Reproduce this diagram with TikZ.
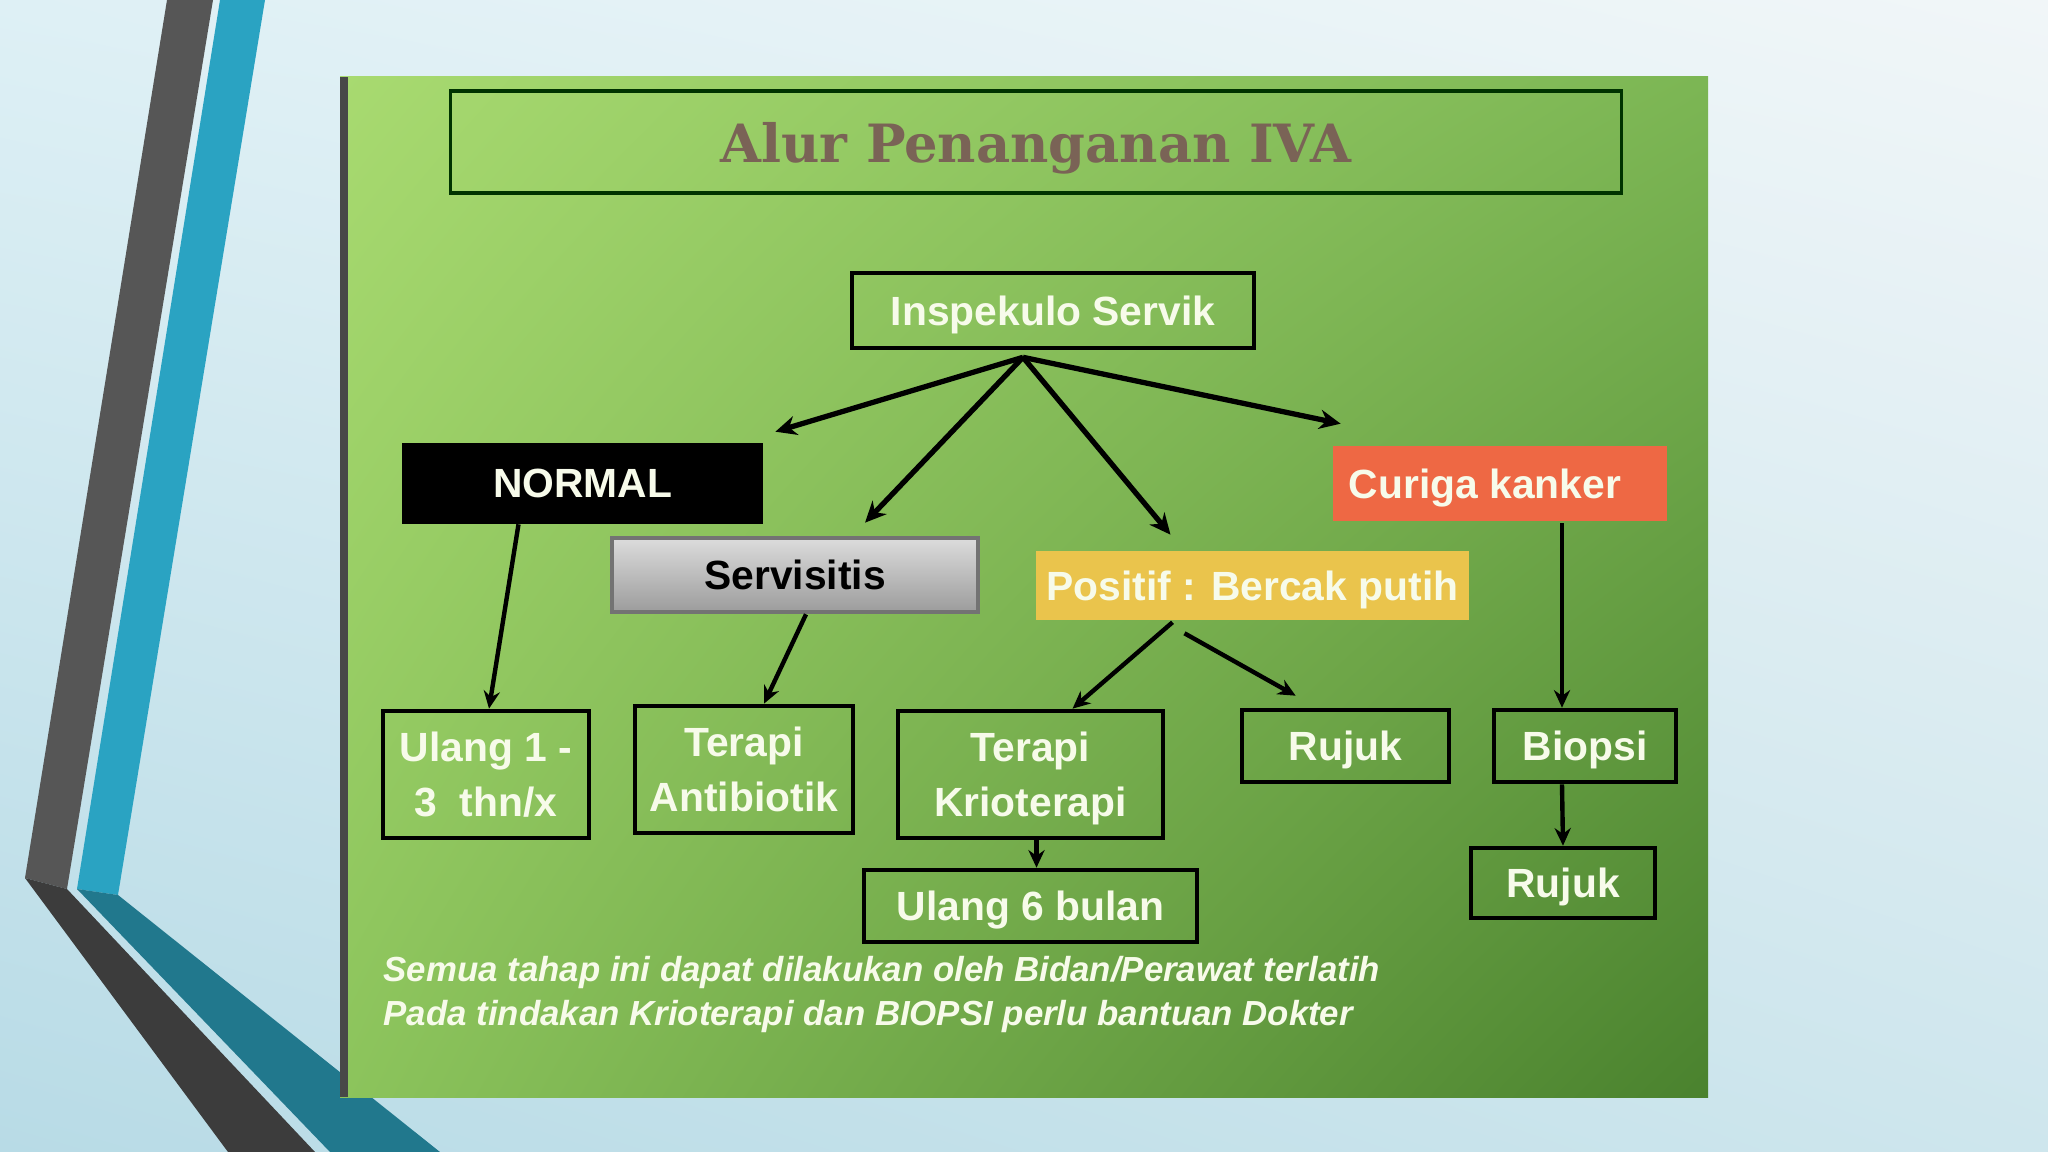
\documentclass[tikz,border=0pt]{standalone}
\usepackage{fontspec}
\setmainfont{Liberation Sans}
\newfontfamily\titlefont{DejaVu Serif}
\usetikzlibrary{arrows.meta,calc,shadings}
\definecolor{bgTopL}{RGB}{222,240,245}
\definecolor{bgTopR}{RGB}{241,246,248}
\definecolor{bgBotL}{RGB}{184,219,230}
\definecolor{bgBotR}{RGB}{206,230,237}
\definecolor{bandGray}{RGB}{86,86,86}
\definecolor{bandDark}{RGB}{60,60,60}
\definecolor{bandBlue}{RGB}{42,163,194}
\definecolor{bandTeal}{RGB}{33,120,141}
\definecolor{pnlTL}{RGB}{168,218,112}
\definecolor{pnlTR}{RGB}{124,182,84}
\definecolor{pnlBL}{RGB}{140,196,92}
\definecolor{pnlBR}{RGB}{74,130,46}
\definecolor{pnlEdge}{RGB}{72,72,72}
\definecolor{ttlBrown}{RGB}{122,99,86}
\definecolor{txtCream}{RGB}{247,251,234}
\definecolor{cPos}{RGB}{234,196,76}
\definecolor{cCur}{RGB}{238,104,68}
\definecolor{cSerTop}{RGB}{220,220,220}
\definecolor{cSerBot}{RGB}{156,156,156}

\begin{document}
\begin{tikzpicture}[
			x=0.01cm,y=-0.01cm,
			box/.style={
				draw=black,
				line width=1.3pt,
				align=center,
				inner sep=2pt,
				text depth=0pt,
				text=txtCream,
				font=\bfseries\fontsize{11.6}{15.6}\selectfont
			},
			titlebox/.style={
				draw=black!80!green,
				line width=1pt,
				text depth=0pt,
				text=ttlBrown,
				font=\titlefont\bfseries\fontsize{15}{18}\selectfont
			},
			note/.style={
				anchor=base west,
				inner sep=0pt,
				text=txtCream,
				font=\bfseries\itshape\fontsize{9.9}{12}\selectfont
			},
			fanarr/.style={line width=1.5pt,-{Stealth[length=6pt,width=5.5pt]}},
			arr/.style={line width=1.25pt,-{Stealth[length=5pt,width=4.6pt]}}
			]
			% slide background
			\useasboundingbox (0,0) rectangle (2048,1152);
			\shade[upper left=bgTopL,upper right=bgTopR,lower left=bgBotL,lower right=bgBotR]
				(0,0) rectangle (2048,1152);
			\fill[bandGray] (167,0) -- (213,0) -- (67,889) -- (25,878) -- cycle;
			\fill[bandDark] (25,878) -- (67,889) -- (315,1152) -- (228,1152) -- cycle;
			\fill[bandBlue] (220,0) -- (265,0) -- (118,895) -- (77,889) -- cycle;
			\fill[bandTeal] (77,889) -- (118,895) -- (440,1152) -- (330,1152) -- cycle;
			% green panel
			\shade[upper left=pnlTL,upper right=pnlTR,lower left=pnlBL,lower right=pnlBR]
				(340,77) rectangle (1708,1097);
			\fill[pnlEdge] (340,77) rectangle (348,1097);
			\node[titlebox,minimum width=11.70cm,minimum height=1.02cm](title) at (1036,142) {Alur Penanganan IVA};
			% first level
			\node[box,minimum width=4.02cm,minimum height=0.75cm](insp) at (1053,310.5) {Inspekulo Servik};
			\node[box,fill=black,minimum width=3.57cm,minimum height=0.77cm](normal) at (582.5,483.5) {NORMAL};
			\node[box,draw=black!55,top color=cSerTop,bottom color=cSerBot,text=black,minimum width=3.66cm,minimum height=0.74cm](servis) at (795,575) {Servisitis};
			\node[box,draw=none,fill=cPos,minimum width=4.33cm,minimum height=0.69cm](positif) at (1252.5,585.5) {Positif : Bercak putih};
			\node[box,draw=none,fill=cCur,minimum width=3.34cm,minimum height=0.75cm](curiga) at (1500,483.5) {Curiga kanker\hspace{0.3cm}};
			% second level
			\node[box,minimum width=2.06cm,minimum height=1.27cm](ulang) at (486,774.5) {Ulang 1 -\\3\ \ thn/x};
			\node[box,minimum width=2.18cm,minimum height=1.27cm](antib) at (744,769.5) {Terapi\\Antibiotik};
			\node[box,minimum width=2.65cm,minimum height=1.27cm](krio) at (1030.5,774.5) {Terapi\\Krioterapi};
			\node[box,minimum width=2.07cm,minimum height=0.72cm](rujukA) at (1345.5,746) {Rujuk};
			\node[box,minimum width=1.82cm,minimum height=0.72cm](biopsi) at (1585,746) {Biopsi};
			\node[box,minimum width=3.33cm,minimum height=0.72cm](ulangB) at (1030.5,906) {Ulang 6 bulan};
			\node[box,minimum width=1.84cm,minimum height=0.70cm](rujukB) at (1563,883) {Rujuk};
			% notes
			\node[note](noteA) at (383,981) {Semua tahap ini dapat dilakukan oleh Bidan/Perawat terlatih};
			\node[note](noteB) at (383,1025) {Pada tindakan Krioterapi dan BIOPSI perlu bantuan Dokter};
			% connectors
			\coordinate (fan) at ($(insp.south)+(-30,7)$);
			\draw[fanarr] (fan) -- ($(normal.north east)+(12,-11)$);
			\draw[fanarr] (fan) -- ($(servis.north)+(70,-13)$);
			\draw[fanarr] (fan) -- ($(positif.north)+(-82,-14)$);
			\draw[fanarr] (fan) -- ($(curiga.north west)+(10,-20)$);
			\draw[arr] ($(normal.south)+(-64,0)$) -- ($(ulang.north)+(3,0)$);
			\draw[arr] ($(servis.south)+(11,0)$) -- ($(antib.north)+(20,0)$);
			\draw[arr] ($(positif.south)+(-80,0)$) -- ($(krio.north)+(42,0)$);
			\draw[arr] ($(positif.south)+(-68,11)$) -- ($(rujukA.north west)+(56,-12)$);
			\draw[arr] ($(curiga.south)+(62,0)$) -- ($(biopsi.north)+(-23,0)$);
			\draw[arr] ($(biopsi.south)+(-23,0)$) -- (rujukB.north);
			\draw[arr] ($(krio.south)+(6,0)$) -- ($(ulangB.north)+(6,0)$);
		\end{tikzpicture}
\end{document}
